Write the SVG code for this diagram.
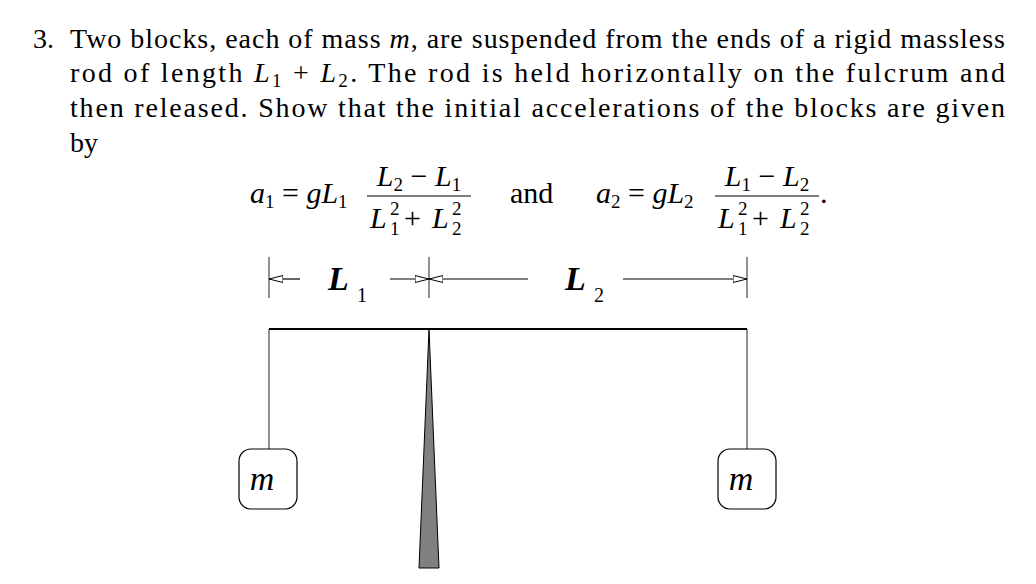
<svg xmlns="http://www.w3.org/2000/svg" width="1036" height="584" viewBox="0 0 1036 584">
<style>
text{font-family:"Liberation Serif","DejaVu Serif",serif;fill:#000}
.t{font-size:28px}
.e{font-size:30px}
.i{font-style:italic}
.s{font-size:19px}
.ln{stroke:#000;stroke-width:1.2;fill:none}
.thin{stroke:#555;stroke-width:1.3;fill:none}
</style>
<defs>
<marker id="ah" viewBox="0 0 14 8" refX="14" refY="4" markerWidth="14" markerHeight="8" markerUnits="userSpaceOnUse" orient="auto"><path d="M0,0.5 L14,4 L0,7.5 Z" fill="#fff" stroke="#000" stroke-width="1"/></marker>
</defs>
<rect width="1036" height="584" fill="#fff"/>
<g id="problem">
<text class="t" x="33" y="48">3.</text>
<text class="t" x="70" y="48" textLength="935" lengthAdjust="spacing">Two blocks, each of mass <tspan class="i">m</tspan>, are suspended from the ends of a rigid massless</text>
<text class="t" x="70" y="82" textLength="935" lengthAdjust="spacing">rod of length <tspan class="i">L</tspan><tspan class="s" dy="5">1</tspan><tspan dy="-5"> + </tspan><tspan class="i">L</tspan><tspan class="s" dy="5">2</tspan><tspan dy="-5">. The rod is held horizontally on the fulcrum and</tspan></text>
<text class="t" x="70" y="117" textLength="935" lengthAdjust="spacing">then released. Show that the initial accelerations of the blocks are given</text>
<text class="t" x="70" y="152">by</text>
</g>
<g id="equation">
<text class="e" x="250" y="203"><tspan class="i">a</tspan><tspan class="s" dy="5">1</tspan><tspan dy="-5"> = </tspan><tspan class="i">gL</tspan><tspan class="s" dy="5">1</tspan></text>
<text class="e" x="419" y="186" text-anchor="middle"><tspan class="i">L</tspan><tspan class="s" dy="5">2</tspan><tspan dy="-5"> − </tspan><tspan class="i">L</tspan><tspan class="s" dy="5">1</tspan></text>
<line x1="367" y1="196" x2="471" y2="196" stroke="#000" stroke-width="1.2"/>
<text class="e i" x="370" y="228">L</text><text class="s" x="390" y="215">2</text><text class="s" x="390" y="235">1</text>
<text class="e" x="404" y="228">+</text>
<text class="e i" x="432" y="228">L</text><text class="s" x="452" y="215">2</text><text class="s" x="452" y="235">2</text>
<text class="e" x="510" y="203">and</text>
<text class="e" x="596" y="203"><tspan class="i">a</tspan><tspan class="s" dy="5">2</tspan><tspan dy="-5"> = </tspan><tspan class="i">gL</tspan><tspan class="s" dy="5">2</tspan></text>
<text class="e" x="767" y="186" text-anchor="middle"><tspan class="i">L</tspan><tspan class="s" dy="5">1</tspan><tspan dy="-5"> − </tspan><tspan class="i">L</tspan><tspan class="s" dy="5">2</tspan></text>
<line x1="715" y1="196" x2="819" y2="196" stroke="#000" stroke-width="1.2"/>
<text class="e i" x="718" y="228">L</text><text class="s" x="738" y="215">2</text><text class="s" x="738" y="235">1</text>
<text class="e" x="752" y="228">+</text>
<text class="e i" x="780" y="228">L</text><text class="s" x="800" y="215">2</text><text class="s" x="800" y="235">2</text>
<text class="e" x="820" y="203">.</text>
</g>
<g id="dimensions">
<line class="thin" x1="269" y1="257" x2="269" y2="298"/>
<line class="thin" x1="429" y1="257" x2="429" y2="298"/>
<line class="thin" x1="747" y1="257" x2="747" y2="298"/>
<text x="328" y="290" font-size="34" font-style="italic" font-weight="bold" font-family="Liberation Sans,Arial,sans-serif">L</text>
<text x="357" y="302" font-size="20" font-family="Liberation Sans,Arial,sans-serif">1</text>
<text x="565" y="290" font-size="34" font-style="italic" font-weight="bold" font-family="Liberation Sans,Arial,sans-serif">L</text>
<text x="594" y="302" font-size="20" font-family="Liberation Sans,Arial,sans-serif">2</text>
</g>
<g id="connectors">
<line class="ln" x1="300" y1="279" x2="269" y2="279" marker-end="url(#ah)"/>
<line class="ln" x1="390" y1="279" x2="429" y2="279" marker-end="url(#ah)"/>
<line class="ln" x1="528" y1="279" x2="429" y2="279" marker-end="url(#ah)"/>
<line class="ln" x1="623" y1="279" x2="747" y2="279" marker-end="url(#ah)"/>
<line class="thin" x1="269" y1="329" x2="269" y2="449"/>
<line class="thin" x1="747" y1="329" x2="747" y2="449"/>
</g>
<g id="rod"><line x1="269" y1="329" x2="747" y2="329" stroke="#000" stroke-width="2"/></g>
<g id="fulcrum"><polygon points="429,329 439,568 419,568" fill="#808080" stroke="#000" stroke-width="1"/></g>
<g id="block1"><rect x="239" y="449" width="58" height="60" rx="12" fill="#fff" stroke="#000" stroke-width="1.2"/><text x="262" y="490" text-anchor="middle" font-size="34" font-style="italic">m</text></g>
<g id="block2"><rect x="718" y="449" width="58" height="60" rx="12" fill="#fff" stroke="#000" stroke-width="1.2"/><text x="741" y="490" text-anchor="middle" font-size="34" font-style="italic">m</text></g>
</svg>
